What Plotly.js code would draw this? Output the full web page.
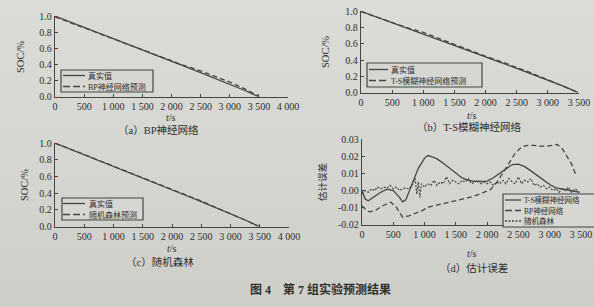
<!DOCTYPE html>
<html>
<head>
<meta charset="utf-8">
<script src="https://cdn.plot.ly/plotly-3.0.1.min.js"></script>
<style>
html,body{margin:0;padding:0;}
body{width:594px;height:307px;background:linear-gradient(180deg,#dbdbd7 0%,#d5d5d1 55%,#cecec9 100%);overflow:hidden;}
#chart{width:594px;height:307px;}
</style>
</head>
<body>
<div id="chart"></div>
<script>
// ---------- data ----------
var socT      = [0,250,500,750,1000,1250,1500,1750,2000,2250,2500,2750,3000,3250,3480];
var socTrue   = [1.000,0.931,0.862,0.792,0.722,0.652,0.582,0.512,0.441,0.370,0.299,0.227,0.155,0.080,0.005];
var socBP     = [0.990,0.922,0.855,0.778,0.712,0.643,0.575,0.509,0.441,0.378,0.321,0.254,0.181,0.101,0.013];
var socTS     = [0.999,0.930,0.862,0.796,0.742,0.669,0.590,0.517,0.448,0.383,0.313,0.238,0.158,0.080,0.004];
var socRF     = [0.998,0.933,0.863,0.793,0.724,0.656,0.587,0.517,0.445,0.374,0.307,0.230,0.157,0.080,0.005];

var tsT   = [0,50,100,200,300,400,500,600,650,700,800,900,1000,1050,1100,1200,1300,1400,1500,1600,1700,1800,1900,2000,2100,2200,2300,2400,2500,2600,2700,2800,2900,3000,3100,3200,3300,3400,3480];
var tsErr = [0.000,-0.005,-0.006,-0.0035,-0.001,0.0008,0.000,-0.004,-0.0066,-0.0055,0.004,0.013,0.019,0.0205,0.020,0.0185,0.016,0.013,0.010,0.0074,0.006,0.0054,0.0053,0.0055,0.0075,0.010,0.013,0.0152,0.0155,0.014,0.0115,0.009,0.006,0.0035,0.0016,0.0008,0.0004,-0.0005,-0.001];

var bpT   = [0,50,120,220,300,400,460,550,650,750,850,950,1050,1150,1300,1450,1550,1700,1800,1950,2050,2150,2250,2350,2450,2550,2650,2750,2850,2950,3050,3120,3200,3280,3350,3420];
var bpErr = [-0.009,-0.0108,-0.0125,-0.0115,-0.0095,-0.0075,-0.0068,-0.0098,-0.0156,-0.0148,-0.0135,-0.012,-0.0098,-0.009,-0.0078,-0.0062,-0.0055,-0.0042,-0.0032,-0.0012,0.0005,0.0045,0.010,0.016,0.022,0.0255,0.0265,0.0265,0.026,0.026,0.0265,0.027,0.0245,0.020,0.0155,0.009];

var rfT   = [0,50,100,150,200,250,300,350,400,450,500,550,600,650,700,750,800,850,875,900,925,950,1000,1050,1100,1150,1200,1250,1300,1350,1400,1450,1500,1550,1600,1650,1700,1750,1800,1850,1900,1950,2000,2050,2100,2150,2200,2250,2300,2350,2400,2450,2500,2550,2600,2650,2700,2750,2800,2850,2900,2950,3000,3050,3100,3150,3200,3250,3300,3350,3400,3450];
var rfErr = [-0.002,0.000,-0.001,0.001,0.000,0.002,0.001,0.002,0.0015,0.003,0.001,0.002,0.000,0.001,0.0015,0.001,0.003,0.007,-0.002,0.005,-0.004,0.004,0.002,0.004,0.003,0.006,0.003,0.005,0.004,0.008,0.004,0.006,0.005,0.004,0.006,0.005,0.007,0.004,0.005,0.006,0.004,0.005,0.004,0.005,0.003,0.005,0.004,0.006,0.004,0.007,0.005,0.004,0.008,0.004,0.006,0.005,0.007,0.003,0.004,0.002,0.003,0.001,0.002,0.000,0.001,-0.001,0.001,0.000,0.002,-0.001,0.001,0.000];

var xTickVals4000 = [0,500,1000,1500,2000,2500,3000,3500,4000];
var xTickText4000 = ['0','500','1 000','1 500','2 000','2 500','3 000','3 500','4 000'];
var xTickVals3500 = [0,500,1000,1500,2000,2500,3000,3500];
var xTickText3500 = ['0','500','1 000','1 500','2 000','2 500','3 000','3 500'];
var socTickVals = [0,0.2,0.4,0.6,0.8,1.0];
var socTickText = ['0.0','0.2','0.4','0.6','0.8','1.0'];
var errTickVals = [-0.02,-0.01,0,0.01,0.02,0.03];
var errTickText = ['-0.02','-0.01','0.00','0.01','0.02','0.03'];

// ---------- styling ----------
var W = 594, H = 307;
function px(x){ return x / W; }
function py(y){ return 1 - y / H; }
var INK = '#454543';
var SERIF = '"Liberation Serif", "Times New Roman", serif';
var CJK = '"Liberation Serif", "Noto Sans CJK SC", serif';
var DASH = '5px,3px';
var DOT = '2px,1.5px';

function lineTrace(x, y, xa, ya, dash, w){
  return {x:x, y:y, xaxis:xa, yaxis:ya, type:'scatter', mode:'lines', showlegend:false,
          hoverinfo:'skip', line:{color:INK, width:w || 1.3, dash:dash || 'solid'}};
}

var data = [
  lineTrace(socT, socTrue, 'x', 'y'),
  lineTrace(socT, socBP, 'x', 'y', DASH),
  lineTrace(socT, socTrue, 'x2', 'y2'),
  lineTrace(socT, socTS, 'x2', 'y2', DASH),
  lineTrace(socT, socTrue, 'x3', 'y3'),
  lineTrace(socT, socRF, 'x3', 'y3', DASH),
  lineTrace(rfT, rfErr, 'x4', 'y4', DOT, 1.2),
  lineTrace(bpT, bpErr, 'x4', 'y4', DASH, 1.3),
  lineTrace(tsT, tsErr, 'x4', 'y4', 'solid', 1.3)
];

function xAx(d0, d1, rng, vals, text, anchor){
  return {domain:[px(d0), px(d1)], range:rng, anchor:anchor, tickvals:vals, ticktext:text,
    showline:true, linecolor:INK, linewidth:1.2, ticks:'inside', ticklen:3, tickcolor:INK,
    showgrid:false, zeroline:false, tickfont:{family:SERIF, size:10, color:'#2e2e2e'}, fixedrange:true};
}
function yAx(top, bottom, rng, vals, text, anchor){
  return {domain:[py(bottom), py(top)], range:rng, anchor:anchor, tickvals:vals, ticktext:text,
    showline:true, linecolor:INK, linewidth:1.2, ticks:'inside', ticklen:3, tickcolor:INK,
    showgrid:false, zeroline:false, tickfont:{family:SERIF, size:10, color:'#2e2e2e'}, fixedrange:true};
}

var ann = [];
function txt(x, y, s, size, opt){
  opt = opt || {};
  ann.push({xref:'paper', yref:'paper', x:px(x), y:py(y), text:s, showarrow:false,
    xanchor:opt.xanchor || 'center', yanchor:'middle', textangle:opt.angle || 0, borderpad:0,
    font:{family:opt.family || CJK, size:size, color:opt.color || '#2e2e2e'}});
}
// axis titles
txt(21, 57, 'SOC/%', 10.5, {angle:-90, family:SERIF});
txt(326, 52, 'SOC/%', 10.5, {angle:-90, family:SERIF});
txt(24, 185, 'SOC/%', 10.5, {angle:-90, family:SERIF});
txt(322, 182, '估计误差', 9.5, {angle:-90});
txt(171, 117.5, '<i>t</i>/s', 10, {family:SERIF});
txt(472, 115.5, '<i>t</i>/s', 10, {family:SERIF});
txt(172, 248.5, '<i>t</i>/s', 10, {family:SERIF});
txt(472, 253, '<i>t</i>/s', 10, {family:SERIF});
// captions
txt(158, 129.5, '（a）BP神经网络', 10.5);
txt(470, 127.5, '（b）T-S模糊神经网络', 10.5);
txt(160, 262, '（c）随机森林', 10.5);
txt(474, 268, '（d）估计误差', 10.5);
txt(320, 289, '<b>图 4　第 7 组实验预测结果</b>', 12);

// legends drawn as boxes with sample lines
var shapes = [];
function box(x0, y0, x1, y1){
  shapes.push({type:'rect', xref:'paper', yref:'paper', x0:px(x0), x1:px(x1), y0:py(y1), y1:py(y0),
    line:{color:INK, width:1.2}, fillcolor:'rgba(214,214,210,1)', layer:'above'});
}
function sample(x0, x1, y, dash){
  shapes.push({type:'line', xref:'paper', yref:'paper', x0:px(x0), x1:px(x1), y0:py(y), y1:py(y),
    line:{color:INK, width:1.3, dash:dash}, layer:'above'});
}
var LEGDASH = '7px,3px';
box(61, 70, 153, 92);
sample(63, 85, 75.5, 'solid'); txt(87, 75.5, '真实值', 8, {xanchor:'left'});
sample(63, 85, 86.5, LEGDASH); txt(87, 86.5, 'BP神经网络预测', 8, {xanchor:'left'});

box(367, 63, 482, 87);
sample(369, 388, 69.5, 'solid'); txt(390, 69.5, '真实值', 8, {xanchor:'left'});
sample(369, 388, 80.5, LEGDASH); txt(390, 80.5, 'T-S模糊神经网络预测', 8, {xanchor:'left'});

box(62, 198, 143, 220);
sample(63, 85, 203.5, 'solid'); txt(88, 203.5, '真实值', 8, {xanchor:'left'});
sample(63, 85, 214.5, LEGDASH); txt(88, 214.5, '随机森林预测', 8, {xanchor:'left'});

box(503, 194, 600, 227);
sample(505, 521, 200, 'solid'); txt(523, 200, 'T-S模糊神经网络', 7.5, {xanchor:'left'});
sample(505, 521, 210.5, LEGDASH); txt(523, 210.5, 'BP神经网络', 7.5, {xanchor:'left'});
sample(505, 521, 221, DOT); txt(523, 221, '随机森林', 7.5, {xanchor:'left'});

var layout = {
  width:W, height:H, margin:{l:0, r:0, t:0, b:0},
  paper_bgcolor:'rgba(0,0,0,0)', plot_bgcolor:'rgba(0,0,0,0)',
  showlegend:false,
  xaxis:  xAx(55, 288, [0,4000], xTickVals4000, xTickText4000, 'y'),
  yaxis:  yAx(15.7, 96.7, [0,1.005], socTickVals, socTickText, 'x'),
  xaxis2: xAx(361, 579, [0,3500], xTickVals3500, xTickText3500, 'y2'),
  yaxis2: yAx(11, 92.7, [0,1.005], socTickVals, socTickText, 'x2'),
  xaxis3: xAx(55, 289, [0,4000], xTickVals4000, xTickText4000, 'y3'),
  yaxis3: yAx(142.7, 226.7, [0,1.005], socTickVals, socTickText, 'x3'),
  xaxis4: xAx(362, 581, [0,3500], xTickVals3500, xTickText3500, 'y4'),
  yaxis4: yAx(139.3, 224.7, [-0.02,0.03], errTickVals, errTickText, 'x4'),
  annotations: ann,
  shapes: shapes
};

Plotly.newPlot('chart', data, layout, {staticPlot:true, displayModeBar:false});
</script>
</body>
</html>
